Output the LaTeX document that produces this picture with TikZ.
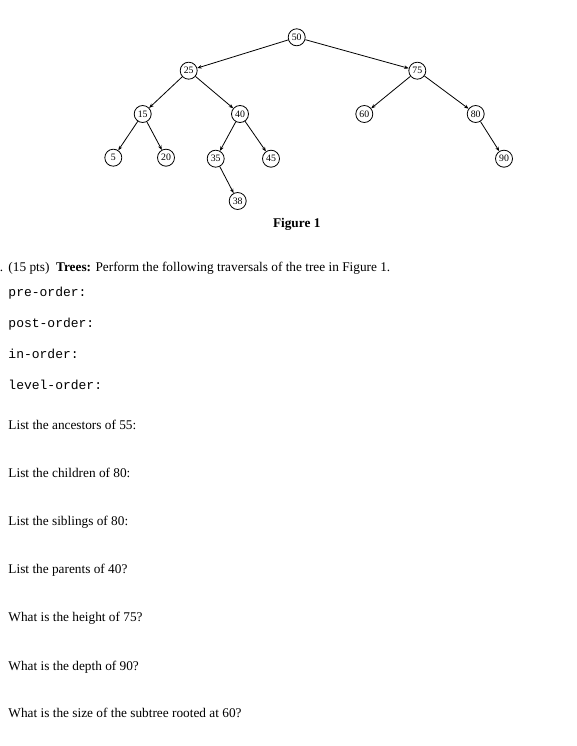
\documentclass[tikz,border=0pt]{standalone}
\usepackage{fontspec}
\setmainfont{Liberation Serif}
\setmonofont{Liberation Mono}
\usetikzlibrary{arrows.meta}
\begin{document}
\begin{tikzpicture}[x=1pt,y=-1pt,
  tnode/.style={circle,draw,line width=0.8pt,minimum size=17pt,inner sep=0pt,font=\fontsize{9.8}{10}\selectfont},
  edge/.style={line width=0.8pt,-{Stealth[length=4.5pt,width=3.5pt]}},
  txt/.style={anchor=base west,inner sep=0pt,font=\fontsize{13.3}{15}\selectfont},
  mono/.style={anchor=base west,inner sep=0pt,font=\ttfamily\fontsize{13}{15}\selectfont}]
\useasboundingbox (0,0) rectangle (576,746);
% tree nodes
\node[tnode] (n50) at (296.7,37.3) {50};
\node[tnode] (n25) at (188.7,70.7) {25};
\node[tnode] (n75) at (417.3,70.7) {75};
\node[tnode] (n15) at (142.7,114) {15};
\node[tnode] (n40) at (240,114) {40};
\node[tnode] (n60) at (364.3,114) {60};
\node[tnode] (n80) at (475.7,114) {80};
\node[tnode] (n5) at (113.3,157.7) {5};
\node[tnode] (n20) at (166,157.7) {20};
\node[tnode] (n35) at (215.7,158.7) {35};
\node[tnode] (n45) at (271,158.7) {45};
\node[tnode] (n90) at (504,158.7) {90};
\node[tnode] (n38) at (237.7,201) {38};
% edges
\draw[edge] (n50) -- (n25);
\draw[edge] (n50) -- (n75);
\draw[edge] (n25) -- (n15);
\draw[edge] (n25) -- (n40);
\draw[edge] (n15) -- (n5);
\draw[edge] (n15) -- (n20);
\draw[edge] (n40) -- (n35);
\draw[edge] (n40) -- (n45);
\draw[edge] (n35) -- (n38);
\draw[edge] (n75) -- (n60);
\draw[edge] (n75) -- (n80);
\draw[edge] (n80) -- (n90);
% caption
\node[font=\bfseries\fontsize{13.3}{15}\selectfont,inner sep=0pt] (cap) at (296.7,224) {Figure 1};
% question text
\node[anchor=base east,inner sep=0pt,font=\fontsize{13.3}{15}\selectfont] (dot) at (3.3,271) {.};
\node[txt] (q) at (8.3,271) {(15 pts)\enspace\textbf{Trees:} Perform the following traversals of the tree in Figure 1.};
\node[mono] (pre) at (8.3,296.5) {pre-order:};
\node[mono] (post) at (8.3,327) {post-order:};
\node[mono] (in) at (8.3,358) {in-order:};
\node[mono] (lvl) at (8.3,389) {level-order:};
\node[txt] (a1) at (8.3,429.5) {List the ancestors of 55:};
\node[txt] (a2) at (8.3,477) {List the children of 80:};
\node[txt] (a3) at (8.3,525) {List the siblings of 80:};
\node[txt] (a4) at (8.3,573.5) {List the parents of 40?};
\node[txt] (a5) at (8.3,621.5) {What is the height of 75?};
\node[txt] (a6) at (8.3,670) {What is the depth of 90?};
\node[txt] (a7) at (8.3,717.5) {What is the size of the subtree rooted at 60?};
\end{tikzpicture}
\end{document}
